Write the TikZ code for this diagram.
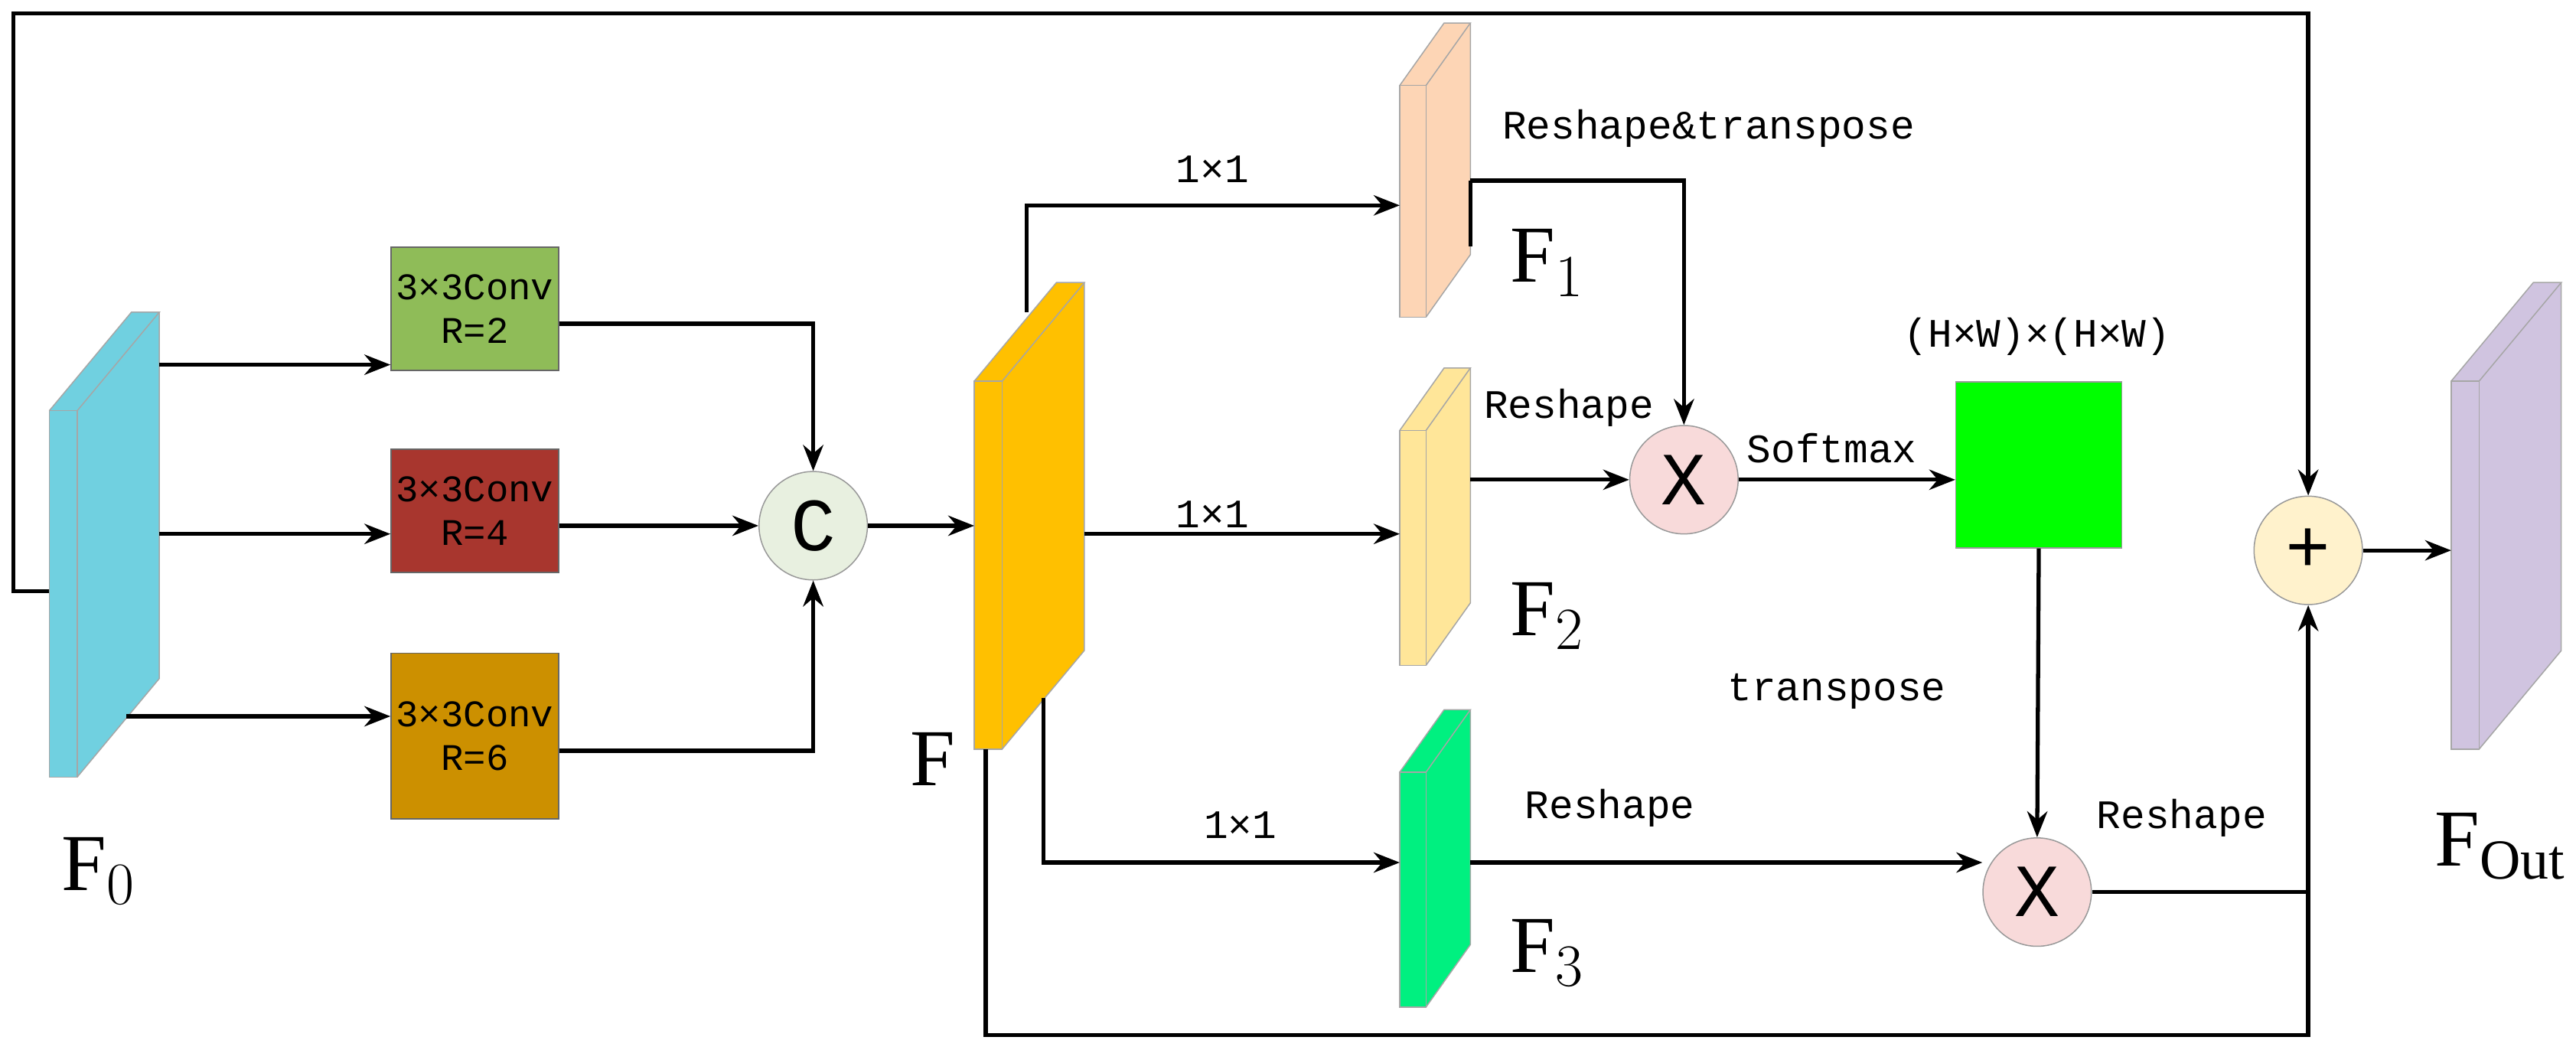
\documentclass[tikz,border=0pt]{standalone}
\usepackage{fontspec}
\setmainfont{Liberation Serif}
\newfontfamily\mono{Liberation Mono}
\usetikzlibrary{arrows.meta}
\definecolor{cyanc}{HTML}{70D0E0}
\definecolor{orc}{HTML}{FFC000}
\definecolor{purc}{RGB}{208,196,224}
\definecolor{f1c}{RGB}{253,213,181}
\definecolor{f2c}{RGB}{255,230,153}
\definecolor{f3c}{RGB}{0,240,128}
\definecolor{g1}{RGB}{143,188,88}
\definecolor{r1}{RGB}{168,54,46}
\definecolor{o1}{RGB}{204,144,0}
\definecolor{cc}{RGB}{232,240,224}
\definecolor{xc}{RGB}{248,218,218}
\definecolor{pc}{RGB}{255,242,204}
\newcommand\myslab[5]{% name, x, ytop, ybot, color
  \fill[#5] (#2,#3) -- (#2+50,#3-60) -- (#2+67,#3-60) -- (#2+67,#4-60) -- (#2+17,#4) -- (#2,#4) -- cycle;
  \draw[black!35,line width=0.4pt] (#2,#3) rectangle (#2+17,#4);
  \draw[black!35,line width=0.4pt] (#2,#3) -- (#2+50,#3-60) -- (#2+67,#3-60) -- (#2+17,#3);
  \draw[black!35,line width=0.4pt] (#2+67,#3-60) -- (#2+67,#4-60) -- (#2+17,#4);
  \coordinate (#1) at (#2+8,#3/2+#4/2);
}
\newcommand\smslab[5]{% name, x, ytop, ybot, color
  \fill[#5] (#2,#3) -- (#2+27,#3-38) -- (#2+43,#3-38) -- (#2+43,#4-38) -- (#2+16,#4) -- (#2,#4) -- cycle;
  \draw[black!35,line width=0.4pt] (#2,#3) rectangle (#2+16,#4);
  \draw[black!35,line width=0.4pt] (#2,#3) -- (#2+27,#3-38) -- (#2+43,#3-38) -- (#2+16,#3);
  \draw[black!35,line width=0.4pt] (#2+43,#3-38) -- (#2+43,#4-38) -- (#2+16,#4);
  \coordinate (#1) at (#2+8,#3/2+#4/2);
}
\tikzset{
  x=0.02cm, y=-0.02cm,
  ln/.style={line width=1.4pt},
  ar/.style={ln,-{Stealth[length=9pt,width=7pt]}},
  conv/.style={draw=black!60,line width=0.4pt,minimum width=2.04cm,align=center,font=\mono\fontsize{13}{15}\selectfont,inner sep=0pt},
  op/.style={circle,draw=black!40,line width=0.4pt,minimum size=1.32cm,font=\mono\fontsize{26}{28}\selectfont},
  lab/.style={font=\mono\fontsize{14}{16}\selectfont,inner sep=0pt},
  big/.style={font=\fontsize{28}{30}\selectfont,inner sep=0pt}
}
\begin{document}
\begin{tikzpicture}
\useasboundingbox (0,0) rectangle (1568,639);
% slabs
\myslab{F0}{30}{250}{473}{cyanc}
\myslab{F}{593}{232}{456}{orc}
\myslab{Fo}{1492}{232}{456}{purc}
\smslab{F1}{852}{52}{193}{f1c}
\smslab{F2}{852}{262}{405}{f2c}
\smslab{F3}{852}{470}{613}{f3c}
% conv boxes
\node[conv,fill=g1,minimum height=1.5cm] (b1) at (289,188) {3×3Conv\\R=2};
\node[conv,fill=r1,minimum height=1.5cm] (b2) at (289,311) {3×3Conv\\R=4};
\node[conv,fill=o1,minimum height=2.02cm] (b3) at (289,448) {3×3Conv\\R=6};
% ops
\node[op,fill=cc] (C) at (495,320) {C};
\node[op,fill=xc] (X1) at (1025,292) {X};
\node[op,fill=xc] (X2) at (1240,543) {X};
\node[op,fill=pc] (P) at (1405,335) {+};
\node[fill={rgb:green,1},draw=black!40,line width=0.4pt,minimum size=2.02cm,inner sep=0pt] (S) at (1241,283) {};
% labels
\node[big] at (60,530) {F$_0$};
\node[big] at (568,462) {F};
\node[big] at (942,160) {F$_1$};
\node[big] at (942,375) {F$_2$};
\node[big] at (942,580) {F$_3$};
\node[big] at (1522,515) {F$_{\mathrm{Out}}$};
\node[lab] at (738,103) {1×1};
\node[lab] at (738,313) {1×1};
\node[lab] at (755,502) {1×1};
\node[lab] at (1040,78) {Reshape\&transpose};
\node[lab] at (955,248) {Reshape};
\node[lab] at (1115,273) {Softmax};
\node[lab] at (1240,205) {(H×W)×(H×W)};
\node[lab] at (1118,421) {transpose};
\node[lab] at (980,492) {Reshape};
\node[lab] at (1328,498) {Reshape};
% coordinates
\coordinate (a1) at (97,222); \coordinate (a2) at (97,325); \coordinate (a3) at (77,436);
\coordinate (t0) at (30,360);
\coordinate (fb) at (600,456);
\coordinate (j) at (1405,543);
% connectors
\draw[ar] (a1) -- (a1 -| b1.west);
\draw[ar] (a2) -- (a2 -| b2.west);
\draw[ar] (a3) -- (a3 -| b3.west);
\draw[ar] (b1.east |- 0,197) -- (495,197) -- (C.north);
\draw[ar] (b2.east |- C) -- (C.west);
\draw[ar] (b3.east |- 0,457) -- (495,457) -- (C.south);
\draw[ar] (C.east) -- (593,320);
\draw[ar] (625,190) -- (625,125) -- (852,125);
\draw[ar] (660,325) -- (852,325);
\draw[ar] (635,425) -- (635,525) -- (852,525);
\draw[ln] (895,150) -- (895,110);
\draw[ar] (895,110) -- (1025,110) -- (X1.north);
\draw[ar] (895,292) -- (X1.west);
\draw[ar] (X1.east) -- (S.west |- X1);
\draw[ar] (S.south) -- (X2.north);
\draw[ar] (895,525) -- (X2.west |- 0,525);
\draw[ln] (X2.east) -- (j);
\draw[ar] (j) -- (P.south);
\draw[ar] (t0) -- (8,360) -- (8,8) -- (1405,8) -- (P.north);
\draw[ln] (fb) -- (600,630) -- (1405,630) -- (j);
\draw[ar] (P.east) -- (1492,335);
\end{tikzpicture}
\end{document}
